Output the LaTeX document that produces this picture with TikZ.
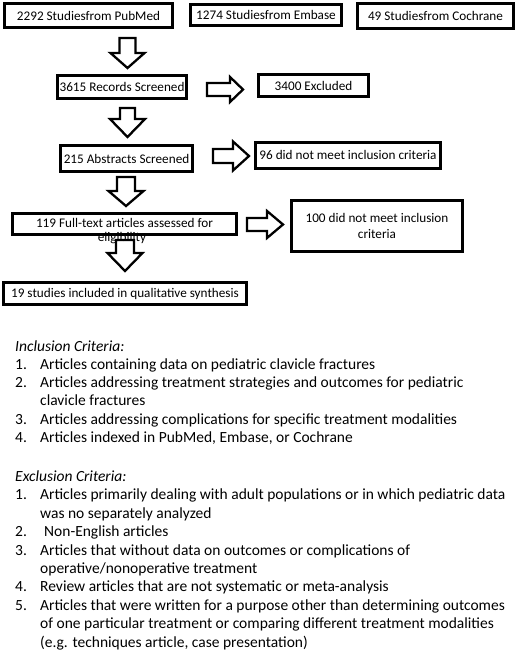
\documentclass[tikz,border=0pt]{standalone}
\usepackage{fontspec}
\setmainfont{Carlito}
\tikzset{
  box/.style={draw, line width=2.6pt, inner sep=0pt, font=\fontsize{13.2}{16}\selectfont, align=center},
  blk/.style={draw, line width=2.3pt, line join=miter},
  body/.style={anchor=base west, inner sep=0pt, font=\fontsize{15.5}{18}\selectfont},
  boxtext/.style={inner sep=0pt, font=\fontsize{13.2}{16}\selectfont},
}
% #1 name, #2 x1, #3 y1, #4 x2, #5 y2, #6 text
\newcommand\flowbox[6]{\node[box, minimum width={(#4)-(#2)-2.6}, minimum height={(#5)-(#3)-2.6}] (#1) at ({((#2)+(#4))/2},{((#3)+(#5))/2}) {#6};}
% down block arrow: #1 x centre, #2 y top, #3 length, #4 shaft half, #5 head half, #6 head length
\newcommand\downblk[6]{\draw[blk, shift={(#1,#2)}] (-#4,0) -- (#4,0) -- (#4,#3-#6) -- (#5,#3-#6) -- (0,#3) -- (-#5,#3-#6) -- (-#4,#3-#6) -- cycle;}
% right block arrow: #1 x left, #2 y centre, #3 length, #4 shaft half, #5 head half, #6 head length
\newcommand\rightblk[6]{\draw[blk, shift={(#1,#2)}] (0,-#4) -- (#3-#6,-#4) -- (#3-#6,-#5) -- (#3,0) -- (#3-#6,#5) -- (#3-#6,#4) -- (0,#4) -- cycle;}
\begin{document}
\begin{tikzpicture}[x=1pt,y=-1pt]
\useasboundingbox (0,0) rectangle (520,651);

% flowchart boxes
\flowbox{pub}{3}{2}{174}{29}{2292 Studiesfrom PubMed}
\flowbox{emb}{189}{3}{343}{27}{1274 Studiesfrom Embase}
\flowbox{coch}{356}{2}{515}{30}{49 Studiesfrom Cochrane}
\flowbox{rec}{56}{74}{188}{100}{3615 Records Screened}
\flowbox{exc}{257}{73}{370}{98}{3400 Excluded}
\flowbox{abs}{59}{144}{194}{173}{215 Abstracts Screened}
\flowbox{n96}{254}{141}{442}{170}{\raisebox{2pt}{96 did not meet inclusion criteria}}
\flowbox{ft}{11}{212}{238}{236}{\raisebox{1.5pt}{119 Full-text articles assessed for}}
\node[boxtext] (elig) at (122,238) {eligibility};
\flowbox{n100}{290}{199}{464}{253}{100 did not meet inclusion\\criteria}
\flowbox{n19}{2}{281}{248}{306}{19 studies included in qualitative synthesis}

% block arrows
\downblk{127.5}{38}{30}{8}{17}{15}
\downblk{127.5}{108}{29}{7.5}{17.5}{18}
\downblk{126}{177}{29}{9}{17.5}{15}
\downblk{125}{240}{31}{9}{17.5}{18}
\rightblk{207}{89.5}{36}{6.5}{12.5}{13}
\rightblk{213}{156}{36}{7}{14.5}{16}
\rightblk{247}{224.5}{36}{6.5}{13.5}{16}

% inclusion criteria
\node[body] (inh) at (15,351) {\itshape Inclusion Criteria:};
\node[body] (in1n) at (15,369.3) {1.};
\node[body] (in1) at (40,369.3) {Articles containing data on pediatric clavicle fractures};
\node[body] (in2n) at (15,387.6) {2.};
\node[body] (in2) at (40,387.6) {Articles addressing treatment strategies and outcomes for pediatric};
\node[body] (in2b) at (40,405.9) {clavicle fractures};
\node[body] (in3n) at (15,424.2) {3.};
\node[body] (in3) at (40,424.2) {Articles addressing complications for specific treatment modalities};
\node[body] (in4n) at (15,442.5) {4.};
\node[body] (in4) at (40,442.5) {Articles indexed in PubMed, Embase, or Cochrane};

% exclusion criteria
\node[body] (exh) at (15,481.5) {\itshape Exclusion Criteria:};
\node[body] (ex1n) at (15,499.9) {1.};
\node[body] (ex1) at (40,499.9) {Articles primarily dealing with adult populations or in which pediatric data};
\node[body] (ex1b) at (40,518.3) {was no separately analyzed};
\node[body] (ex2n) at (15,536.7) {2.};
\node[body] (ex2) at (44,536.7) {Non-English articles};
\node[body] (ex3n) at (15,555.1) {3.};
\node[body] (ex3) at (40,555.1) {Articles that without data on outcomes or complications of};
\node[body] (ex3b) at (40,573.5) {operative/nonoperative treatment};
\node[body] (ex4n) at (15,591.9) {4.};
\node[body] (ex4) at (40,591.9) {Review articles that are not systematic or meta-analysis};
\node[body] (ex5n) at (15,610.3) {5.};
\node[body] (ex5) at (40,610.3) {Articles that were written for a purpose other than determining outcomes};
\node[body] (ex5b) at (40,628.7) {of one particular treatment or comparing different treatment modalities};
\node[body] (ex5c) at (40,647.1) {(e.g. techniques article, case presentation)};
\end{tikzpicture}
\end{document}
